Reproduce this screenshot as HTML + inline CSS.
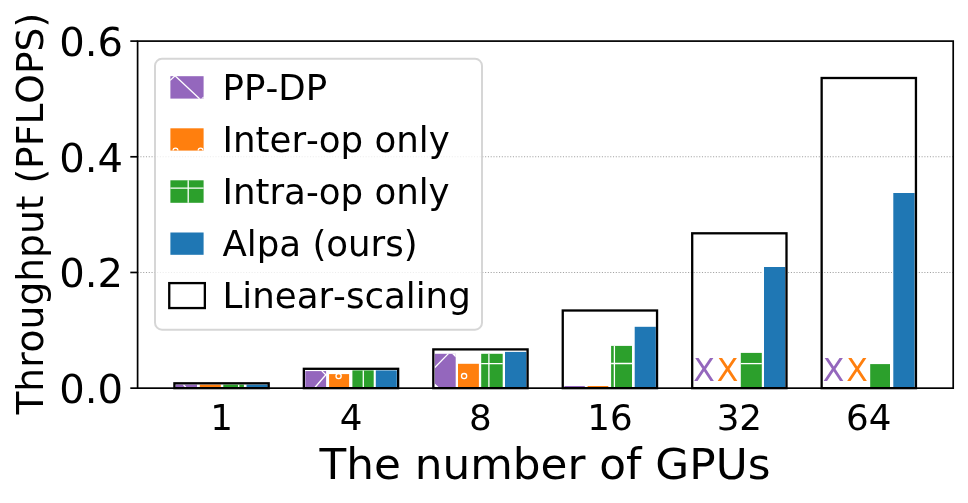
<!DOCTYPE html>
<html lang="en"><head><meta charset="utf-8"><title>Throughput vs number of GPUs</title>
<style>html,body{margin:0;padding:0;background:#fff}svg{display:block}text{font-kerning:none;font-variant-ligatures:none;font-family:"DejaVu Sans","Liberation Sans",sans-serif;fill:#000}</style></head><body>
<svg width="968" height="503" viewBox="0 0 968 503">
<rect x="0" y="0" width="968" height="503" fill="#fff"/>
<line x1="137.6" x2="953.2" y1="272.47" y2="272.47" stroke="#a2a2a2" stroke-width="1.15" stroke-dasharray="1.1 1.68"/>
<line x1="137.6" x2="953.2" y1="156.78" y2="156.78" stroke="#a2a2a2" stroke-width="1.15" stroke-dasharray="1.1 1.68"/>
<rect x="174.35" y="383.30" width="23.95" height="4.85" fill="#fff"/>
<rect x="198.50" y="383.30" width="23.60" height="4.85" fill="#fff"/>
<rect x="222.00" y="383.30" width="23.20" height="4.85" fill="#fff"/>
<rect x="245.20" y="383.30" width="23.90" height="4.85" fill="#fff"/>
<rect x="304.00" y="369.80" width="23.40" height="18.35" fill="#fff"/>
<rect x="327.80" y="372.80" width="22.60" height="15.35" fill="#fff"/>
<rect x="351.10" y="369.10" width="23.90" height="19.05" fill="#fff"/>
<rect x="374.50" y="369.10" width="23.60" height="19.05" fill="#fff"/>
<rect x="433.50" y="352.50" width="23.50" height="35.65" fill="#fff"/>
<rect x="456.70" y="362.50" width="23.50" height="25.65" fill="#fff"/>
<rect x="479.90" y="352.50" width="24.10" height="35.65" fill="#fff"/>
<rect x="503.70" y="350.60" width="24.10" height="37.55" fill="#fff"/>
<rect x="563.10" y="384.70" width="23.00" height="3.45" fill="#fff"/>
<rect x="586.30" y="384.70" width="23.30" height="3.45" fill="#fff"/>
<rect x="609.80" y="344.60" width="23.50" height="43.55" fill="#fff"/>
<rect x="633.40" y="325.50" width="23.70" height="62.65" fill="#fff"/>
<rect x="739.50" y="351.60" width="23.60" height="36.55" fill="#fff"/>
<rect x="762.70" y="265.70" width="23.90" height="122.45" fill="#fff"/>
<rect x="868.90" y="362.80" width="22.40" height="25.35" fill="#fff"/>
<rect x="892.00" y="191.70" width="23.90" height="196.45" fill="#fff"/>
<rect x="175.65" y="384.60" width="21.35" height="3.55" fill="#9467bd"/>
<rect x="199.80" y="384.60" width="21.00" height="3.55" fill="#ff7f0e"/>
<rect x="223.30" y="384.60" width="20.60" height="3.55" fill="#2ca02c"/>
<rect x="246.50" y="384.60" width="21.30" height="3.55" fill="#1f77b4"/>
<rect x="305.30" y="371.10" width="20.80" height="17.05" fill="#9467bd"/>
<rect x="329.10" y="374.10" width="20.00" height="14.05" fill="#ff7f0e"/>
<rect x="352.40" y="370.40" width="21.30" height="17.75" fill="#2ca02c"/>
<rect x="375.80" y="370.40" width="21.00" height="17.75" fill="#1f77b4"/>
<rect x="434.80" y="353.80" width="20.90" height="34.35" fill="#9467bd"/>
<rect x="458.00" y="363.80" width="20.90" height="24.35" fill="#ff7f0e"/>
<rect x="481.20" y="353.80" width="21.50" height="34.35" fill="#2ca02c"/>
<rect x="505.00" y="351.90" width="21.50" height="36.25" fill="#1f77b4"/>
<rect x="564.40" y="386.00" width="20.40" height="2.15" fill="#9467bd"/>
<rect x="587.60" y="386.00" width="20.70" height="2.15" fill="#ff7f0e"/>
<rect x="611.10" y="345.90" width="20.90" height="42.25" fill="#2ca02c"/>
<rect x="634.70" y="326.80" width="21.10" height="61.35" fill="#1f77b4"/>
<rect x="740.80" y="352.90" width="21.00" height="35.25" fill="#2ca02c"/>
<rect x="764.00" y="267.00" width="21.30" height="121.15" fill="#1f77b4"/>
<rect x="870.20" y="364.10" width="19.80" height="24.05" fill="#2ca02c"/>
<rect x="893.30" y="193.00" width="21.30" height="195.15" fill="#1f77b4"/>
<g stroke="#fff" stroke-width="1.3" fill="none">
<path d="M183.2 384.4L185.8 387.2"/>
<path d="M238.7 384.4V388"/>
<path d="M315.1 387.2L326.3 374.3"/>
<path d="M321.8 370.9L326.3 375.3"/>
<clipPath id="c4o"><rect x="329.1" y="374.1" width="20" height="14"/></clipPath>
<circle cx="338.6" cy="376.1" r="2.6" clip-path="url(#c4o)"/>
<path d="M363.3 370.4V388"/>
<path d="M434.6 367.8L448.4 353.6"/>
<path d="M452.0 353.8L455.7 357.6V353.8ZM434.8 383.4L439 387.6H434.8Z" fill="#fff" stroke="none"/>
<circle cx="464.1" cy="376.1" r="2.6"/>
<path d="M488.9 353.8V388M481.2 363.6H502.7"/>
<path d="M614.4 345.9V388M611.1 363.5H632"/>
<path d="M740.8 363.6H761.8"/>
</g>
<text x="703.99" y="381.4" font-size="31.5" text-anchor="middle" style="fill:#9467bd">X</text>
<text x="727.56" y="381.4" font-size="31.5" text-anchor="middle" style="fill:#ff7f0e">X</text>
<text x="833.44" y="381.4" font-size="31.5" text-anchor="middle" style="fill:#9467bd">X</text>
<text x="857.01" y="381.4" font-size="31.5" text-anchor="middle" style="fill:#ff7f0e">X</text>
<rect x="174.40" y="383.30" width="94.30" height="4.85" fill="none" stroke="#000" stroke-width="2.3"/>
<rect x="303.85" y="368.80" width="94.30" height="19.35" fill="none" stroke="#000" stroke-width="2.3"/>
<rect x="433.30" y="349.40" width="94.30" height="38.75" fill="none" stroke="#000" stroke-width="2.3"/>
<rect x="562.75" y="310.50" width="94.30" height="77.65" fill="none" stroke="#000" stroke-width="2.3"/>
<rect x="692.20" y="233.30" width="94.30" height="154.85" fill="none" stroke="#000" stroke-width="2.3"/>
<rect x="821.65" y="78.00" width="94.30" height="310.15" fill="none" stroke="#000" stroke-width="2.3"/>
<rect x="137.6" y="41.1" width="815.60" height="347.04999999999995" fill="none" stroke="#000" stroke-width="1.7"/>
<line x1="130.3" x2="137.6" y1="388.15" y2="388.15" stroke="#000" stroke-width="1.7"/>
<text transform="translate(123.0 403.15) scale(1.023 1)" font-size="39.2" text-anchor="end">0.0</text>
<line x1="130.3" x2="137.6" y1="272.47" y2="272.47" stroke="#000" stroke-width="1.7"/>
<text transform="translate(123.0 287.47) scale(1.023 1)" font-size="39.2" text-anchor="end">0.2</text>
<line x1="130.3" x2="137.6" y1="156.78" y2="156.78" stroke="#000" stroke-width="1.7"/>
<text transform="translate(123.0 171.78) scale(1.023 1)" font-size="39.2" text-anchor="end">0.4</text>
<line x1="130.3" x2="137.6" y1="41.10" y2="41.10" stroke="#000" stroke-width="1.7"/>
<text transform="translate(123.0 56.10) scale(1.023 1)" font-size="39.2" text-anchor="end">0.6</text>
<text x="221.55" y="429.7" font-size="35.7" text-anchor="middle">1</text>
<text x="351.00" y="429.7" font-size="35.7" text-anchor="middle">4</text>
<text x="480.45" y="429.7" font-size="35.7" text-anchor="middle">8</text>
<text x="609.90" y="429.7" font-size="35.7" text-anchor="middle">16</text>
<text x="739.35" y="429.7" font-size="35.7" text-anchor="middle">32</text>
<text x="868.80" y="429.7" font-size="35.7" text-anchor="middle">64</text>
<text transform="translate(319.5 478.7) scale(1.0174 1)" font-size="43">The number of GPUs</text>
<text transform="translate(42.8 414.6) rotate(-90)" font-size="37.6">Throughput (PFLOPS)</text>
<rect x="155" y="58.8" width="327" height="270.9" rx="7" ry="7" fill="#fff" fill-opacity="0.8" stroke="#ccc" stroke-opacity="0.8" stroke-width="2"/>
<rect x="170.4" y="76.2" width="33.2" height="22.40" fill="#9467bd"/>
<rect x="170.4" y="128.3" width="33.2" height="22.30" fill="#ff7f0e"/>
<rect x="170.4" y="180.3" width="33.2" height="22.50" fill="#2ca02c"/>
<rect x="170.4" y="232.5" width="33.2" height="22.30" fill="#1f77b4"/>
<g stroke="#fff" stroke-width="1.3" fill="none">
<path d="M175.3 76.0L199.6 98.8"/>
<path d="M170.2 80.4L174.8 76.0"/>
<path d="M201.3 98.6H203.6V96.4Z" fill="#fff" stroke="none"/>
<clipPath id="clo"><rect x="170.4" y="128.3" width="33.2" height="22.3"/></clipPath>
<circle cx="175.5" cy="150.5" r="2.4" clip-path="url(#clo)"/><circle cx="200.6" cy="150.5" r="2.4" clip-path="url(#clo)"/>
<path d="M188.2 180.3V202.8M170.4 188.05H203.6"/>
</g>
<rect x="169.25" y="283.1" width="35.6" height="24.95" fill="#fff" stroke="#000" stroke-width="2.3"/>
<text x="222.5" y="99.7" font-size="35.6">PP-DP</text>
<text x="222.5" y="151.7" font-size="35.6">Inter-op only</text>
<text x="222.5" y="204.2" font-size="35.6">Intra-op only</text>
<text x="222.5" y="256.3" font-size="35.6">Alpa (ours)</text>
<text x="222.5" y="307.7" font-size="35.6">Linear-scaling</text>
</svg></body></html>
